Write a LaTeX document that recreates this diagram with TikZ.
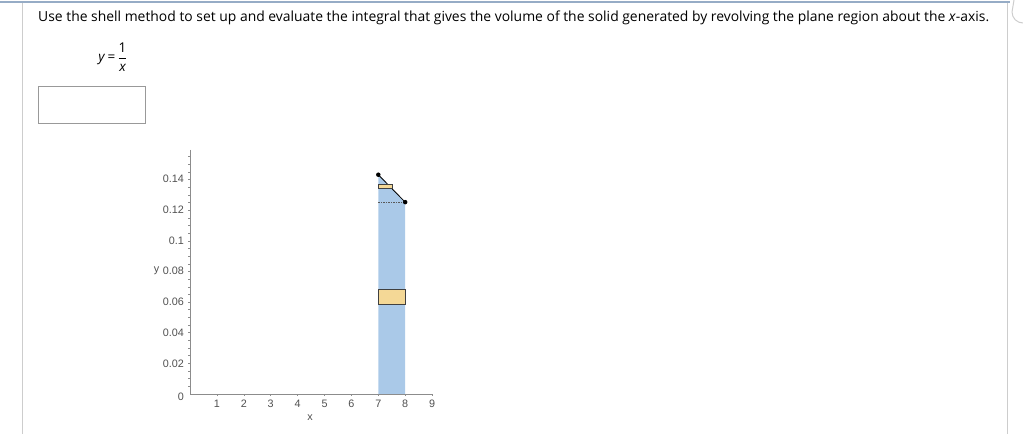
\documentclass[tikz,border=0pt]{standalone}
\usepackage{fontspec}
\usepackage{amsmath}
\setmainfont{Open Sans}
\newfontfamily\plotfont{Liberation Sans}
\usetikzlibrary{positioning}
\definecolor{shellblue}{RGB}{170,201,232}
\definecolor{shellbar}{RGB}{244,216,150}
\definecolor{axisgrey}{RGB}{140,140,140}
\definecolor{labgrey}{RGB}{80,80,80}
\definecolor{framegrey}{RGB}{205,205,205}
\definecolor{frameblue}{RGB}{150,172,198}

\begin{document}
\begin{tikzpicture}[x=1pt,y=-1pt,
            question/.style={font=\fontsize{13.9}{16}\selectfont,anchor=west,inner sep=0},
            answerbox/.style={draw=black!40,minimum width=107,minimum height=37,inner sep=0},
            ticklab/.style={font=\plotfont\fontsize{10.8}{12}\selectfont,text=labgrey,inner sep=1},
            axis/.style={draw=axisgrey,line width=.7},
            bar/.style={draw=black!75,fill=shellbar,line width=.9},
            dot/.style={circle,fill=black,inner sep=0,minimum size=4.5}
          ]
          \useasboundingbox (0,0) rectangle (1023,434);

          %frame
          \draw[frameblue,line width=1.5] (0,2) -- (1010,2);
          \draw[framegrey,line width=1] (22,3) -- (22,434);
          \draw[framegrey,line width=1] (1007,3) -- (1007,434);
          \draw[framegrey,line width=1] (1014,0) -- (1012,12) arc[start angle=180,end angle=90,radius=11];

          %question
          \node[question] (q) at (38,18) {Use the shell method to set up and evaluate the integral that gives the volume of the solid generated by revolving the plane region about the \textit{x}-axis.};
          \node[font=\fontsize{13.5}{15}\selectfont,inner sep=0] (eq) at (113,57)
            {\textit{y}\,=\,$\dfrac{\text{1}}{\textit{x}}$};
          \node[answerbox] (ans) at (91.5,104.5) {};

          %plot
          \begin{scope}[shift={(190,394)},x=26.9pt,y=1535pt]
            \fill[shellblue] (7,0) -- (7,1/7) -- (8,1/8) -- (8,0) -- cycle;
            \draw[black!65,dash pattern=on 1.5pt off 1pt,line width=.6] (7,1/8) -- (8,1/8);
            \draw[black,line width=.8] (7,1/7) node[dot] (p7) {} -- (8,1/8) node[dot] (p8) {};
            \draw[bar] (7,0.0584) rectangle (8,0.0678);
            \draw[bar] (7,0.1342) rectangle (7.52,0.1368);

            %axes
            \draw[axis] (0,0.159) -- (0,0) -- (9.05,0);
            \foreach \t in {0.005,0.01,...,0.156}
              \draw[axis,line width=.5] (0,\t) -- ++(-2.5pt,0);
            \foreach \t in {1,...,9}
              \draw[axis,line width=.5] (\t,0) -- ++(0,-2pt);

            %labels
            \foreach \v [count=\i] in {0.02,0.04,0.06,0.08,0.1,0.12,0.14}
              \node[ticklab,anchor=east] (ytick\i) at ([xshift=-5pt]0,\v) {\v};
            \node[ticklab,anchor=east] (ytick0) at ([xshift=-5pt,yshift=-3pt]0,0) {0};
            \foreach \v in {1,...,9}
              \node[ticklab,anchor=north] (xtick\v) at ([yshift=-4.5pt]\v,0) {\v};
            \node[ticklab,left=1pt of ytick4] (ylab) {y};
            \node[ticklab] (xlab) at ([yshift=-24pt]4.46,0) {x};
          \end{scope}

      \end{tikzpicture}
\end{document}
